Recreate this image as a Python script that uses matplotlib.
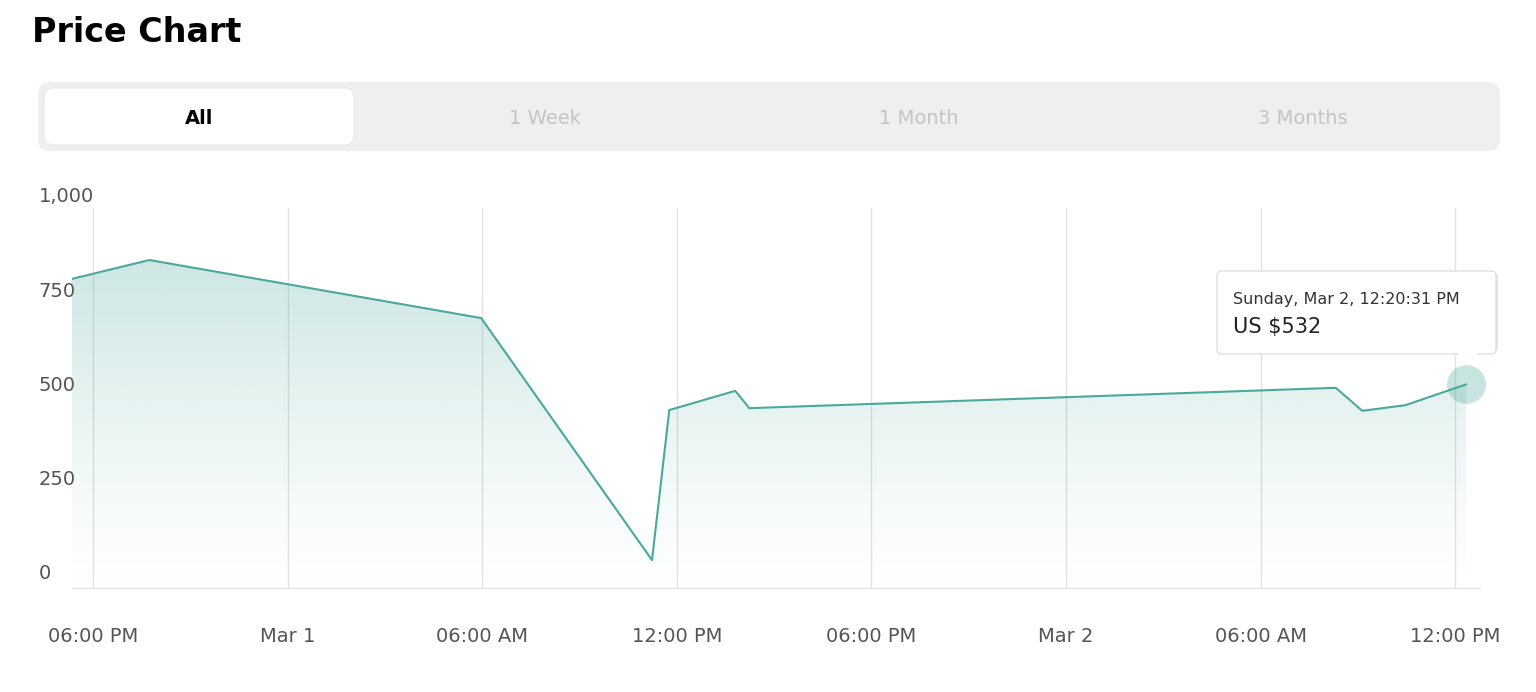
import datetime as dt
import numpy as np
import matplotlib
matplotlib.use("Agg")
import matplotlib.pyplot as plt
import matplotlib.dates as mdates
from matplotlib.patches import FancyBboxPatch, Polygon, Circle

# data
times = ["2025-02-28 17:21", "2025-02-28 19:44", "2025-03-01 05:58", "2025-03-01 11:14",
         "2025-03-01 11:46", "2025-03-01 13:48", "2025-03-01 14:14", "2025-03-02 08:19",
         "2025-03-02 09:08", "2025-03-02 10:28", "2025-03-02 12:20"]
prices = [812, 862, 708, 66, 464, 515, 469, 523, 462, 477, 532]
tick_times = ["2025-02-28 18:00", "2025-03-01 00:00", "2025-03-01 06:00", "2025-03-01 12:00",
              "2025-03-01 18:00", "2025-03-02 00:00", "2025-03-02 06:00", "2025-03-02 12:00"]
y_ticks = [0, 250, 500, 750, 1000]
tabs = ["All", "1 Week", "1 Month", "3 Months"]

W, H = 1536, 692
teal = "#4aa89e"

def fx(x):
    return x / W

def fy(y):
    return 1 - y / H

x = mdates.date2num([dt.datetime.strptime(t, "%Y-%m-%d %H:%M") for t in times])
xt = mdates.date2num([dt.datetime.strptime(t, "%Y-%m-%d %H:%M") for t in tick_times])

fig = plt.figure(figsize=(W / 100, H / 100), dpi=100)
fig.patch.set_facecolor("white")

fig.text(fx(32), fy(32), "Price Chart", fontsize=24, weight="bold", va="center", ha="left")

# tab bar
fig.patches.append(FancyBboxPatch((fx(38), fy(151)), fx(1500) - fx(38), fy(82) - fy(151),
                                  boxstyle="round,pad=0,rounding_size=0.008", transform=fig.transFigure,
                                  fc="#efefef", ec="none", mutation_aspect=W / H))
fig.patches.append(FancyBboxPatch((fx(44), fy(145)), fx(354) - fx(44), fy(88) - fy(145),
                                  boxstyle="round,pad=0,rounding_size=0.006", transform=fig.transFigure,
                                  fc="white", ec="#e4e4e4", lw=0.6, mutation_aspect=W / H))
for label, px in zip(tabs, [199, 545, 919, 1303]):
    sel = label == "All"
    fig.text(fx(px), fy(119), label, fontsize=14, ha="center", va="center",
             weight="bold" if sel else "normal", color="black" if sel else "#c4c4c4")

ax = fig.add_axes([fx(72), fy(588), fx(1480) - fx(72), fy(208) - fy(588)])
ymin, ymax = -8, 1000
xmin = x[0]
xmax = x[-1] + 0.43 / 24
ax.set_xlim(xmin, xmax)
ax.set_ylim(ymin, ymax)
for s in ["top", "right", "left"]:
    ax.spines[s].set_visible(False)
ax.spines["bottom"].set_color("#e2e2e2")
ax.set_yticks([])
ax.set_xticks(xt)
ax.tick_params(axis="x", length=0, pad=28, labelsize=14, labelcolor="#555555")

def fmt(v, pos=None):
    d = mdates.num2date(v)
    if d.hour == 0:
        return d.strftime("%b ") + str(d.day)
    return d.strftime("%I:%M %p")

ax.set_xticklabels([fmt(v) for v in xt])
for v in xt:
    ax.axvline(v, color="#e2e2e2", lw=1, zorder=0)

for v in y_ticks:
    ax.annotate(f"{v:,}", xy=(0, v), xycoords=("axes fraction", "data"),
                xytext=(-24, 8), textcoords="offset points", fontsize=14,
                color="#555555", ha="left", va="center", annotation_clip=False)

# gradient fill under the line
grad = np.linspace(0, 1, 256).reshape(-1, 1)
rgba = np.zeros((256, 1, 4))
rgba[..., :3] = matplotlib.colors.to_rgb(teal)
rgba[..., 3] = 0.28 * grad ** 1.2
img = ax.imshow(rgba, extent=[xmin, xmax, ymin, 870], origin="lower", aspect="auto", zorder=1)
poly = Polygon(list(zip(x, prices)) + [(x[-1], ymin), (x[0], ymin)], closed=True,
               fc="none", ec="none", transform=ax.transData)
ax.add_patch(poly)
img.set_clip_path(poly)

ax.plot(x, prices, color=teal, lw=1.5, zorder=3)
ax.plot(x[-1], prices[-1], "o", ms=28, color=teal, alpha=0.3, mec="none", zorder=4, clip_on=False)

# tooltip
fig.patches.append(FancyBboxPatch((fx(1219), fy(352)), fx(1498) - fx(1219), fy(273) - fy(352),
                                  boxstyle="round,pad=0,rounding_size=0.003", transform=fig.transFigure,
                                  fc="#00000018", ec="none", mutation_aspect=W / H))
fig.patches.append(FancyBboxPatch((fx(1217), fy(354)), fx(1496) - fx(1217), fy(271) - fy(354),
                                  boxstyle="round,pad=0,rounding_size=0.003", transform=fig.transFigure,
                                  fc="white", ec="#d8d8d8", lw=0.8, mutation_aspect=W / H))
fig.patches.append(Polygon([(fx(1458), fy(353)), (fx(1478), fy(353)), (fx(1468), fy(365))],
                           closed=True, transform=fig.transFigure, fc="white", ec="none"))
fig.text(fx(1233), fy(300), "Sunday, Mar 2, 12:20:31 PM", fontsize=11.5, color="#333333",
         ha="left", va="center")
fig.text(fx(1233), fy(327), "US $532", fontsize=15, color="#222222", ha="left", va="center")

fig.savefig("out.png", dpi=100)
